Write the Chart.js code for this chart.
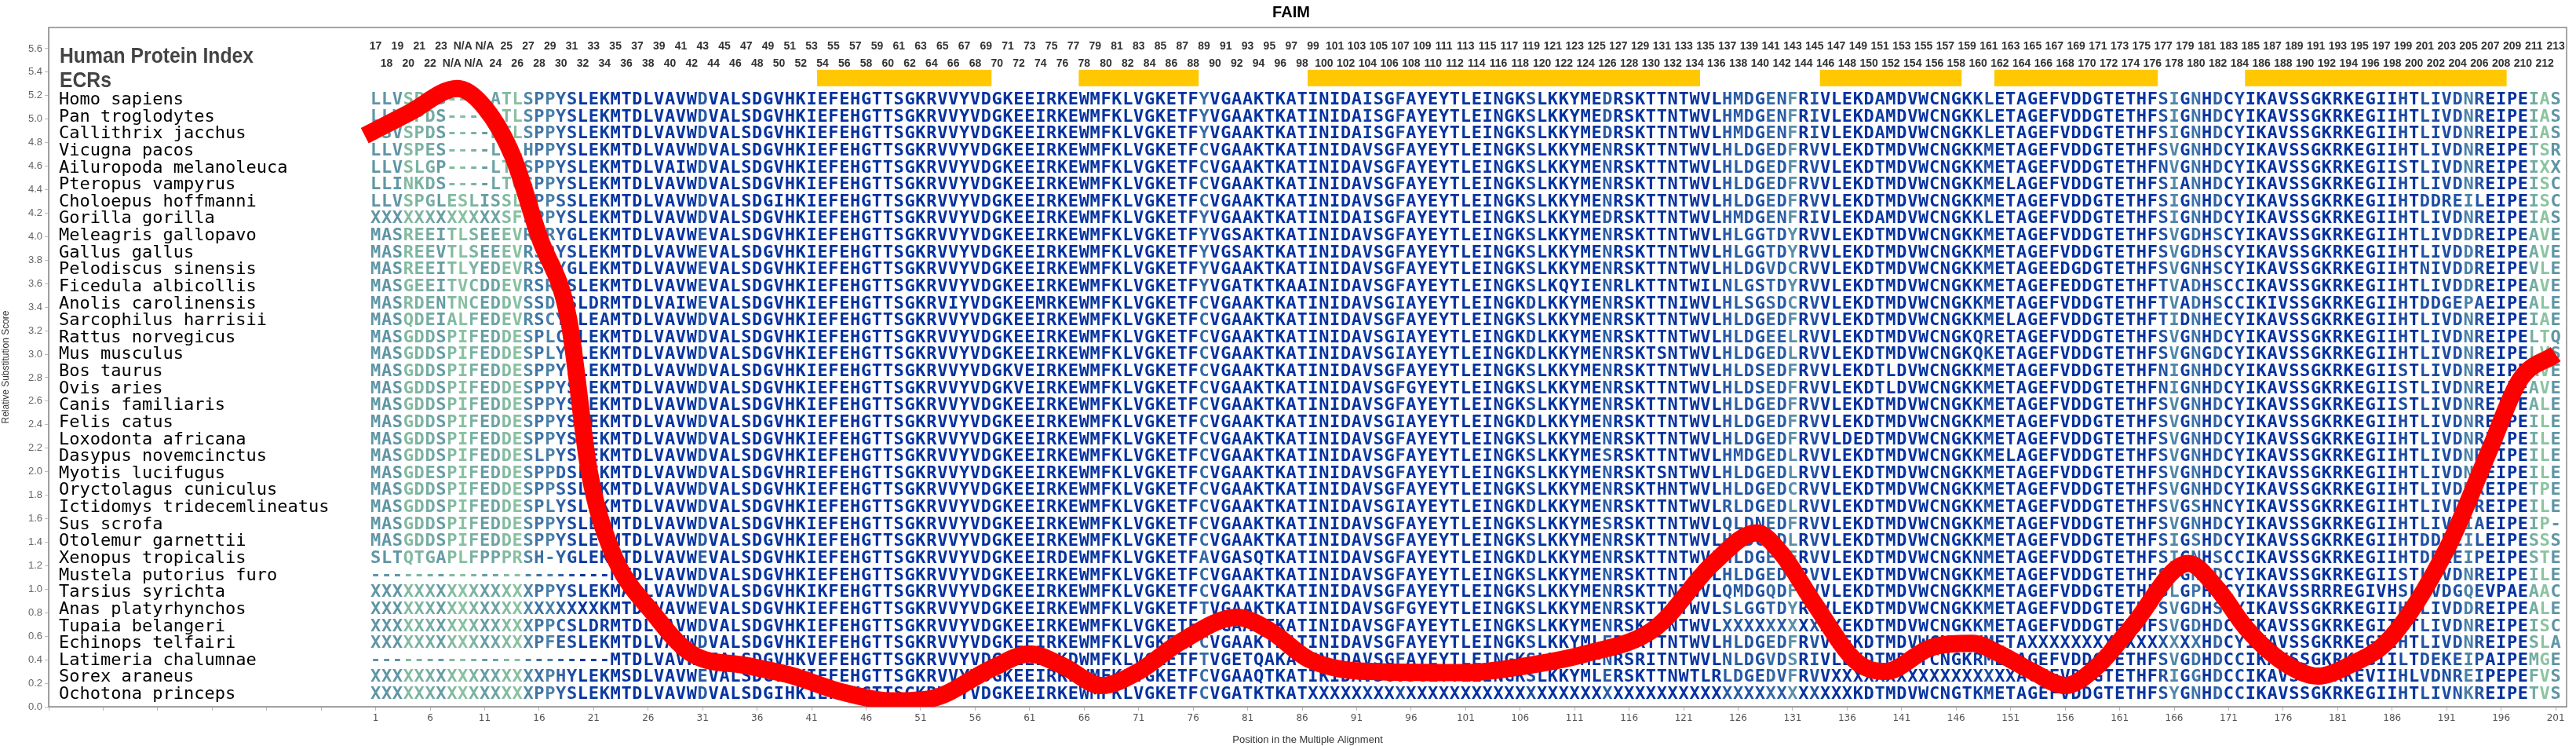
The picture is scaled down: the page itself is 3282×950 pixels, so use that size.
<!DOCTYPE html>
<html><head><meta charset="utf-8">
<script src="https://cdn.jsdelivr.net/npm/chart.js@4.4.1/dist/chart.umd.min.js"></script>
<style>html,body{margin:0;padding:0;background:#fff}</style>
</head><body>
<canvas id="c" width="3282" height="950"></canvas>
<script>
// ---------- DATA ----------
const curvePos = [0,4,8.5,11,13.6,16,18.7,20.6,22.6,26.6,30,35,39,44,48.5,52,57.6,61,64,67.6,71,74.8,80,83,86.7,92,101,106,112,118.4,123.7,127.7,130,132.9,136.9,139.5,143.6,147.5,150,153,156,159,162,167.3,170,172.6,176,179.2,182,185.8,191,195,197.7,201];
const curveVal = [4.86,5.05,5.26,5.1,4.68,4.0,3.3,2.0,1.34,0.78,0.45,0.35,0.27,0.12,0.05,0.07,0.33,0.45,0.35,0.18,0.3,0.55,0.76,0.65,0.4,0.3,0.29,0.34,0.45,0.67,1.22,1.48,1.3,0.89,0.38,0.3,0.5,0.54,0.45,0.3,0.18,0.35,0.67,1.22,1.0,0.67,0.38,0.26,0.35,0.58,1.34,2.2,2.78,3.0];
const ecrHuman = [[54,69],[78,88],[99,134],[146,158],[162,176],[185,208]];
const humanStart = 17;
const yTicks = [0,0.2,0.4,0.6,0.8,1.0,1.2,1.4,1.6,1.8,2.0,2.2,2.4,2.6,2.8,3.0,3.2,3.4,3.6,3.8,4.0,4.2,4.4,4.6,4.8,5.0,5.2,5.4,5.6];
const species = ["Homo sapiens","Pan troglodytes","Callithrix jacchus","Vicugna pacos","Ailuropoda melanoleuca","Pteropus vampyrus","Choloepus hoffmanni","Gorilla gorilla","Meleagris gallopavo","Gallus gallus","Pelodiscus sinensis","Ficedula albicollis","Anolis carolinensis","Sarcophilus harrisii","Rattus norvegicus","Mus musculus","Bos taurus","Ovis aries","Canis familiaris","Felis catus","Loxodonta africana","Dasypus novemcinctus","Myotis lucifugus","Oryctolagus cuniculus","Ictidomys tridecemlineatus","Sus scrofa","Otolemur garnettii","Xenopus tropicalis","Mustela putorius furo","Tarsius syrichta","Anas platyrhynchos","Tupaia belangeri","Echinops telfairi","Latimeria chalumnae","Sorex araneus","Ochotona princeps"];
const H = "LLVSPDS----ATLSPPYSLEKMTDLVAVWDVALSDGVHKIEFEHGTTSGKRVVYVDGKEEIRKEWMFKLVGKETFYVGAAKTKATINIDAISGFAYEYTLEINGKSLKKYMEDRSKTTNTWVLHMDGENFRIVLEKDAMDVWCNGKKLETAGEFVDDGTETHFSIGNHDCYIKAVSSGKRKEGIIHTLIVDNREIPEIAS";
const M = "MASGDDSPIFEDDESPPYSLEKMTDLVAVWDVALSDGVHKIEFEHGTTSGKRVVYVDGKEEIRKEWMFKLVGKETFCVGAAKTKATINIDAVSGFAYEYTLEINGKSLKKYMENRSKTTNTWVLHLDGEDFRVVLEKDTMDVWCNGKKMETAGEFVDDGTETHFSVGNHDCYIKAVSSGKRKEGIIHTLIVDNREIPEILE";
const B = "MASREETTLSEEEVRSRYGLEKMTDLVAVWEVALSDGVHKIEFEHGTTSGKRVVYVDGKEEIRKEWMFKLVGKETFYVGSAKTKATINIDAVSGFAYEYTLEINGKSLKKYMENRSKTTNTWVLHLGGTDYRVVLEKDTMDVWCNGKKMETAGEFVDDGTETHFSVGDHSCYIKAVSSGKRKEGIIHTLIVDDREIPEAVE";
function ed(s, edits){ let a=s.split(''); for(const [c,t] of edits){ for(let i=0;i<t.length;i++) a[c-1+i]=t[i]; } return a.join(''); }
const seqs = [
 H, H,
 ed(H,[[1,"FSVSPDS----PTLS"]]),
 ed(M,[[1,"LLVSPES----LTLH"],[199,"TSR"]]),
 ed(M,[[1,"LLVSLGP----LTLS"],[29,"I"],[165,"N"],[187,"S"],[199,"IXX"]]),
 ed(M,[[1,"LLINKDS----LTQS"],[151,"L"],[165,"SIA"],[199,"ISC"]]),
 ed(M,[[1,"LLVSPGLESLISSLGPPSS"],[38,"I"],[123,"V"],[165,"SIG"],[189,"DDREILE"],[199,"ISC"]]),
 ed(H,[[1,"XXXXXXXXXXXXSFS"]]),
 ed(B,[[1,"MASREEITLSEEEVRSRYG"]]),
 ed(B,[[1,"MASREEVTLSEEEVRSRYS"]]),
 ed(B,[[1,"MASREEITLYEDEVRSQYG"],[80,"A"],[125,"HLDGVDC"],[155,"EDG"],[168,"N"],[189,"N"],[199,"VLE"]]),
 ed(B,[[1,"MASGEEITVCDDEVRSRYS"],[77,"YVGATKTKAAINIDAVSGFAYEYTLEINGKSLKQYIENRLKTTNTWIL"],[125,"NLGSTDY"],[156,"E"],[165,"TVADHSCC"],[199,"AVE"]]),
 ed(M,[[1,"MASRDENTNCEDDVSSDYSLDR"],[29,"I"],[31,"E"],[54,"I"],[62,"M"],[95,"I"],[107,"D"],[121,"I"],[125,"HLSGSDC"],[165,"TVADHSCC"],[175,"I"],[189,"DDGEPA"],[199,"ALE"]]),
 ed(M,[[1,"MASQDEIALFEDEVRSCYSLEA"],[151,"L"],[165,"TIDNHECY"],[199,"IAE"]]),
 ed(M,[[1,"MASGDDSPIFEDDESPLCS"],[95,"I"],[107,"D"],[125,"HLDGEEL"],[148,"QR"],[199,"LTQ"]]),
 ed(M,[[1,"MASGDDSPIFEDDESPLYS"],[95,"I"],[107,"D"],[119,"S"],[125,"HLDGEDL"],[148,"QK"],[169,"G"],[199,"LVS"]]),
 ed(M,[[60,"V"],[125,"HLDSEDF"],[140,"L"],[165,"NIG"],[187,"S"],[199,"AVE"]]),
 ed(M,[[60,"V"],[96,"G"],[125,"HLDSEDF"],[140,"L"],[165,"NIG"],[187,"S"],[199,"AVE"]]),
 ed(M,[[187,"S"],[199,"ALE"]]),
 ed(M,[[95,"I"],[107,"D"],[199,"ILE"]]),
 ed(M,[[136,"DED"],[199,"ILE"]]),
 ed(M,[[1,"MASGDDSPIFEDDESLPYS"],[113,"ES"],[125,"HMDGEDL"],[151,"L"],[199,"ILE"]]),
 ed(M,[[1,"MASGDESPIFEDDESPPDS"],[39,"HRI"],[119,"S"],[125,"HLDGEDL"],[199,"ILE"]]),
 ed(M,[[1,"MASGDDSPIFEDDESPPSS"],[119,"H"],[125,"HLDGEDC"],[199,"TPE"]]),
 ed(M,[[1,"MASGDDSPIFEDDESPLYS"],[95,"I"],[107,"D"],[125,"RLDGEDL"],[165,"SVGSHNCY"],[199,"ILE"]]),
 ed(M,[[113,"ES"],[125,"QLDNEDF"],[193,"IAE"],[199,"IP-"]]),
 ed(M,[[125,"HLDGEDL"],[165,"SIGSHDCY"],[189,"DDREILE"],[199,"SSS"]]),
 ed(M,[[1,"SLTQTGAPLFPPPRSH-YG"],[31,"E"],[64,"D"],[77,"AVGASQ"],[107,"D"],[125,"HLDGEC"],[148,"N"],[165,"SIGNHSCC"],[181,"R"],[189,"DDREIPE"],[199,"STE"]]),
 ed(M,[[1,"----------------------"],[187,"S"],[199,"ILE"]]),
 ed(M,[[1,"XXXXXXXXXXXXXXXPPYS"],[23,"MA"],[42,"K"],[125,"QMDGQDF"],[165,"SLGPHECY"],[179,"RRREGIVHSLVVDGQEVPA"],[199,"AAC"]]),
 ed(B,[[1,"XXXXXXXXXXXXXXXXXXXXX"],[77,"TVGAAK"],[96,"G"],[125,"SLGGTDYRI"],[199,"ALE"]]),
 ed(M,[[1,"XXXXXXXXXXXXXXXPPCSLDR"],[125,"XXXXXXXXXXX"],[165,"SVGDHDCY"],[199,"ISC"]]),
 ed(M,[[1,"XXXXXXXXXXXXXXXPFES"],[113,"LE"],[153,"XXXXXXXXXXXXXXXXHDCY"],[199,"SLA"]]),
 ed(M,[[1,"----------------------"],[23,"MTDLVAVWEIALSDGVHKV"],[65,"D"],[77,"TVGETQA"],[117,"RI"],[125,"NLDGVDSRI"],[143,"Y"],[147,"KR"],[165,"SVGDHDCC"],[181,"R"],[187,"L"],[189,"DEKEIPA"],[199,"MGE"]]),
 ed(M,[[1,"XXXXXXXXXXXXXXXXPHY"],[24,"S"],[31,"E"],[77,"CVGAAQTKATIK"],[95,"VSGL"],[113,"LE"],[121,"WTLRLDGEDV"],[135,"XXXXXXXXXXXXXXXXX"],[165,"RIGGHDCC"],[181,"R"],[184,"V"],[188,"LVDNREIPE"],[199,"FVS"]]),
 ed(M,[[1,"XXXXXXXXXXXXXXXPPYS"],[38,"I"],[77,"CVGATKTKAT"],[87,"XXXXXXXXXXXXXXXXXXXXXXXXXXXXXXXXXXXXXXXXXXXXXXXXXX"],[137,"KDTMDVWCNGTKMETAGEF"],[165,"SYGNHDCC"],[192,"NK"],[199,"TVS"]])
];
const NCOL = 201;

// ---------- helpers ----------
const rows = seqs.map(s => (s + ' '.repeat(NCOL)).slice(0, NCOL));
const colColor = [];
function lerp(a,b,t){return a.map((v,i)=>Math.round(v+(b[i]-v)*t));}
const cLight=[140,196,160], cMid=[70,125,168], cDark=[5,50,160];
for (let c=0;c<NCOL;c++){
  const cnt={}; rows.forEach(r=>{const ch=r[c]; cnt[ch]=(cnt[ch]||0)+1;});
  const f=Math.max(...Object.values(cnt))/rows.length;
  let t=Math.min(1,Math.max(0,(f-0.35)/0.55));
  const col = t<0.5? lerp(cLight,cMid,t*2) : lerp(cMid,cDark,(t-0.5)*2);
  colColor.push(`rgb(${col.join(',')})`);
}
const humanIdx=[]; { let k=humanStart; for(const ch of H){ if(ch==='-') humanIdx.push('N/A'); else humanIdx.push(String(k++)); } }
const ecrCols = ecrHuman.map(([a,b])=>[humanIdx.indexOf(String(a))+1, humanIdx.indexOf(String(b))+1]);
const xTickVals=[]; for(let v=-29; v<=201; v+=5) xTickVals.push(v);

function fitText(ctx, txt, x0, y0, w){
  const m=ctx.measureText(txt).width; ctx.save(); ctx.translate(x0,y0); ctx.scale(w/m,1); ctx.fillText(txt,0,0); ctx.restore();
}
const overlay = {
  id:'overlay',
  beforeDatasetsDraw(chart){
    const {ctx, chartArea:a, scales:{x,y}} = chart;
    ctx.save();
    ctx.strokeStyle='#888'; ctx.lineWidth=1.5;
    ctx.strokeRect(a.left, a.top, a.right-a.left, a.bottom-a.top);
    ctx.fillStyle='#444';
    ctx.font='bold 27px "Liberation Sans Narrow","Liberation Sans",sans-serif';
    ctx.textBaseline='middle'; ctx.textAlign='left';
    fitText(ctx,'Human Protein Index', 76, y.getPixelForValue(5.53), 247);
    fitText(ctx,'ECRs', 76, y.getPixelForValue(5.325), 66);
    // index labels
    ctx.font='bold 14px "Liberation Sans Narrow","Liberation Sans",sans-serif';
    ctx.fillStyle='#333'; ctx.textAlign='center';
    humanIdx.forEach((lab,i)=>{
      const yy = (i%2===0) ? y.getPixelForValue(5.617) : y.getPixelForValue(5.47);
      ctx.fillText(lab, x.getPixelForValue(i+1), yy);
    });
    // ECR bars
    ctx.fillStyle='#ffc800';
    const yb1=y.getPixelForValue(5.42), yb2=y.getPixelForValue(5.28);
    ecrCols.forEach(([c1,c2])=>{
      const x1=x.getPixelForValue(c1-0.5), x2=x.getPixelForValue(c2+0.5);
      ctx.fillRect(x1, yb1, x2-x1, yb2-yb1);
    });
    // species names + letters
    const rowTop = a.top + 90, rowStep = 21.63;
    ctx.textBaseline='alphabetic';
    rows.forEach((r,ri)=>{
      const yy = rowTop + rowStep*ri + 8;
      ctx.fillStyle='#000'; ctx.textAlign='left';
      ctx.font='22px "DejaVu Sans Mono",monospace';
      ctx.fillText(species[ri], 75, yy);
      ctx.font='bold 22px "DejaVu Sans Mono",monospace';
      ctx.textAlign='center';
      for(let c=0;c<NCOL;c++){
        const ch=r[c]; if(ch===' ') continue;
        ctx.fillStyle=colColor[c];
        ctx.fillText(ch, x.getPixelForValue(c+1), yy);
      }
    });
    ctx.restore();
  },
  afterDraw(chart){
    const {ctx}=chart; ctx.save();
    ctx.font='bold 20px "Liberation Sans",Arial,sans-serif'; ctx.fillStyle='#000';
    ctx.textAlign='center'; ctx.textBaseline='middle';
    ctx.fillText('FAIM', 1645, 16); ctx.restore();
  }
};

new Chart(document.getElementById('c'), {
  type:'line',
  data:{ datasets:[{
    data: curvePos.map((p,i)=>({x:p, y:curveVal[i]})),
    borderColor:'#ff0000', borderWidth:22, pointRadius:0, cubicInterpolationMode:'monotone', fill:false
  }]},
  options:{
    responsive:false, animation:false, devicePixelRatio:1,
    layout:{padding:{top:35,right:12,left:0,bottom:0}},
    plugins:{legend:{display:false}, tooltip:{enabled:false}, title:{display:false}},
    scales:{
      x:{type:'linear', min:-29, max:202,
        afterBuildTicks(s){ s.ticks = xTickVals.map(v=>({value:v})); },
        afterFit(s){ s.height=50; },
        grid:{drawOnChartArea:false, drawTicks:true, tickLength:5, color:'#bbb'},
        border:{color:'#bbb'},
        ticks:{autoSkip:false, maxRotation:0, color:'#555', font:{size:12, family:'"DejaVu Sans"'}, padding:3,
          callback:(v)=> v>=1 ? String(v) : ''},
        title:{display:true, text:'Position in the Multiple Alignment', color:'#333', font:{size:13, family:'"Liberation Sans"'}, padding:{top:2,bottom:0}}
      },
      y:{min:0, max:5.78,
        afterBuildTicks(s){ s.ticks = yTicks.map(v=>({value:v})); },
        afterFit(s){ s.width=62; },
        grid:{drawOnChartArea:false, drawTicks:true, tickLength:5, color:'#bbb'},
        border:{color:'#bbb'},
        ticks:{color:'#666', font:{size:13, family:'"Liberation Sans"'}, padding:3, callback:(v)=>Number(v).toFixed(1)},
        title:{display:true, text:'Relative Substitution Score', color:'#333', font:{size:12, family:'"Liberation Sans"'}, padding:0}
      }
    }
  },
  plugins:[overlay]
});
</script>
</body></html>
